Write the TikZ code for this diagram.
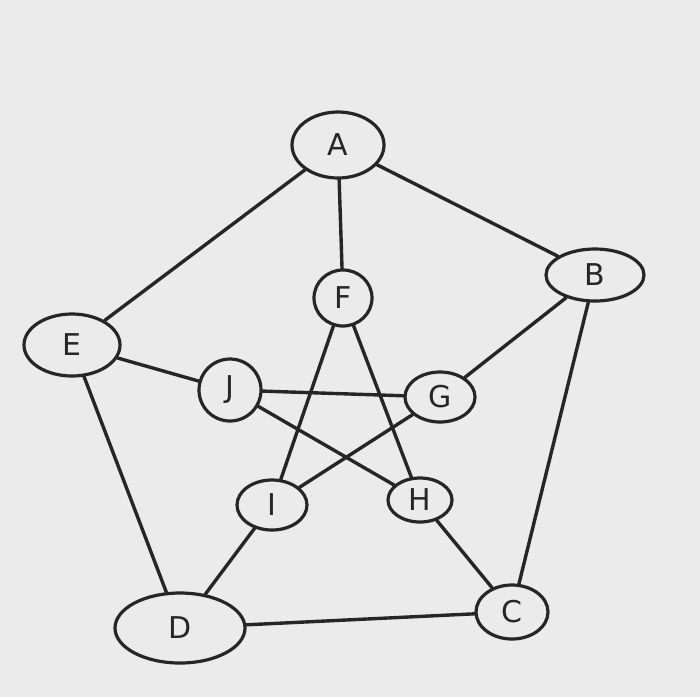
\documentclass[tikz,border=0pt]{standalone}
\usepackage{fontspec}
\setmainfont{DejaVu Sans}
\usetikzlibrary{shapes.geometric}
\begin{document}
\begin{tikzpicture}[x=1pt,y=-1pt,
  vtx/.style={draw=black!85,line width=3.2pt,ellipse,minimum width=#1,minimum height=52pt,font=\fontsize{30}{30}\selectfont,text=black!85},
  edge/.style={draw=black!85,line width=3.4pt,line cap=round}]
\fill[black!8] (0,0) rectangle (700,697);
\useasboundingbox (0,0) rectangle (700,697);
\node[vtx=92pt,minimum height=66pt] (A) at (338,145) {A};
\node[vtx=98pt] (B) at (595,275) {B};
\node[vtx=96pt,minimum height=62pt] (E) at (72,345) {E};
\node[vtx=58pt,minimum height=56pt] (F) at (343,298) {F};
\node[vtx=62pt,minimum height=62pt] (J) at (230,390) {J};
\node[vtx=70pt,minimum height=50pt] (G) at (440,397) {G};
\node[vtx=70pt,minimum height=50pt] (I) at (272,505) {I};
\node[vtx=64pt,minimum height=44pt] (H) at (420,500) {H};
\node[vtx=130pt,minimum height=70pt] (D) at (180,628) {D};
\node[vtx=72pt,minimum height=54pt] (C) at (512,612) {C};
\draw[edge] (A) -- (E);
\draw[edge] (A) -- (F);
\draw[edge] (A) -- (B);
\draw[edge] (B) -- (G);
\draw[edge] (B) -- (C);
\draw[edge] (E) -- (J);
\draw[edge] (E) -- (D);
\draw[edge] (F) -- (I);
\draw[edge] (F) -- (H);
\draw[edge] (J) -- (G);
\draw[edge] (J) -- (H);
\draw[edge] (H) -- (C);
\draw[edge] (G) -- (I);
\draw[edge] (I) -- (D);
\draw[edge] (D) -- (C);
\end{tikzpicture}
\end{document}
